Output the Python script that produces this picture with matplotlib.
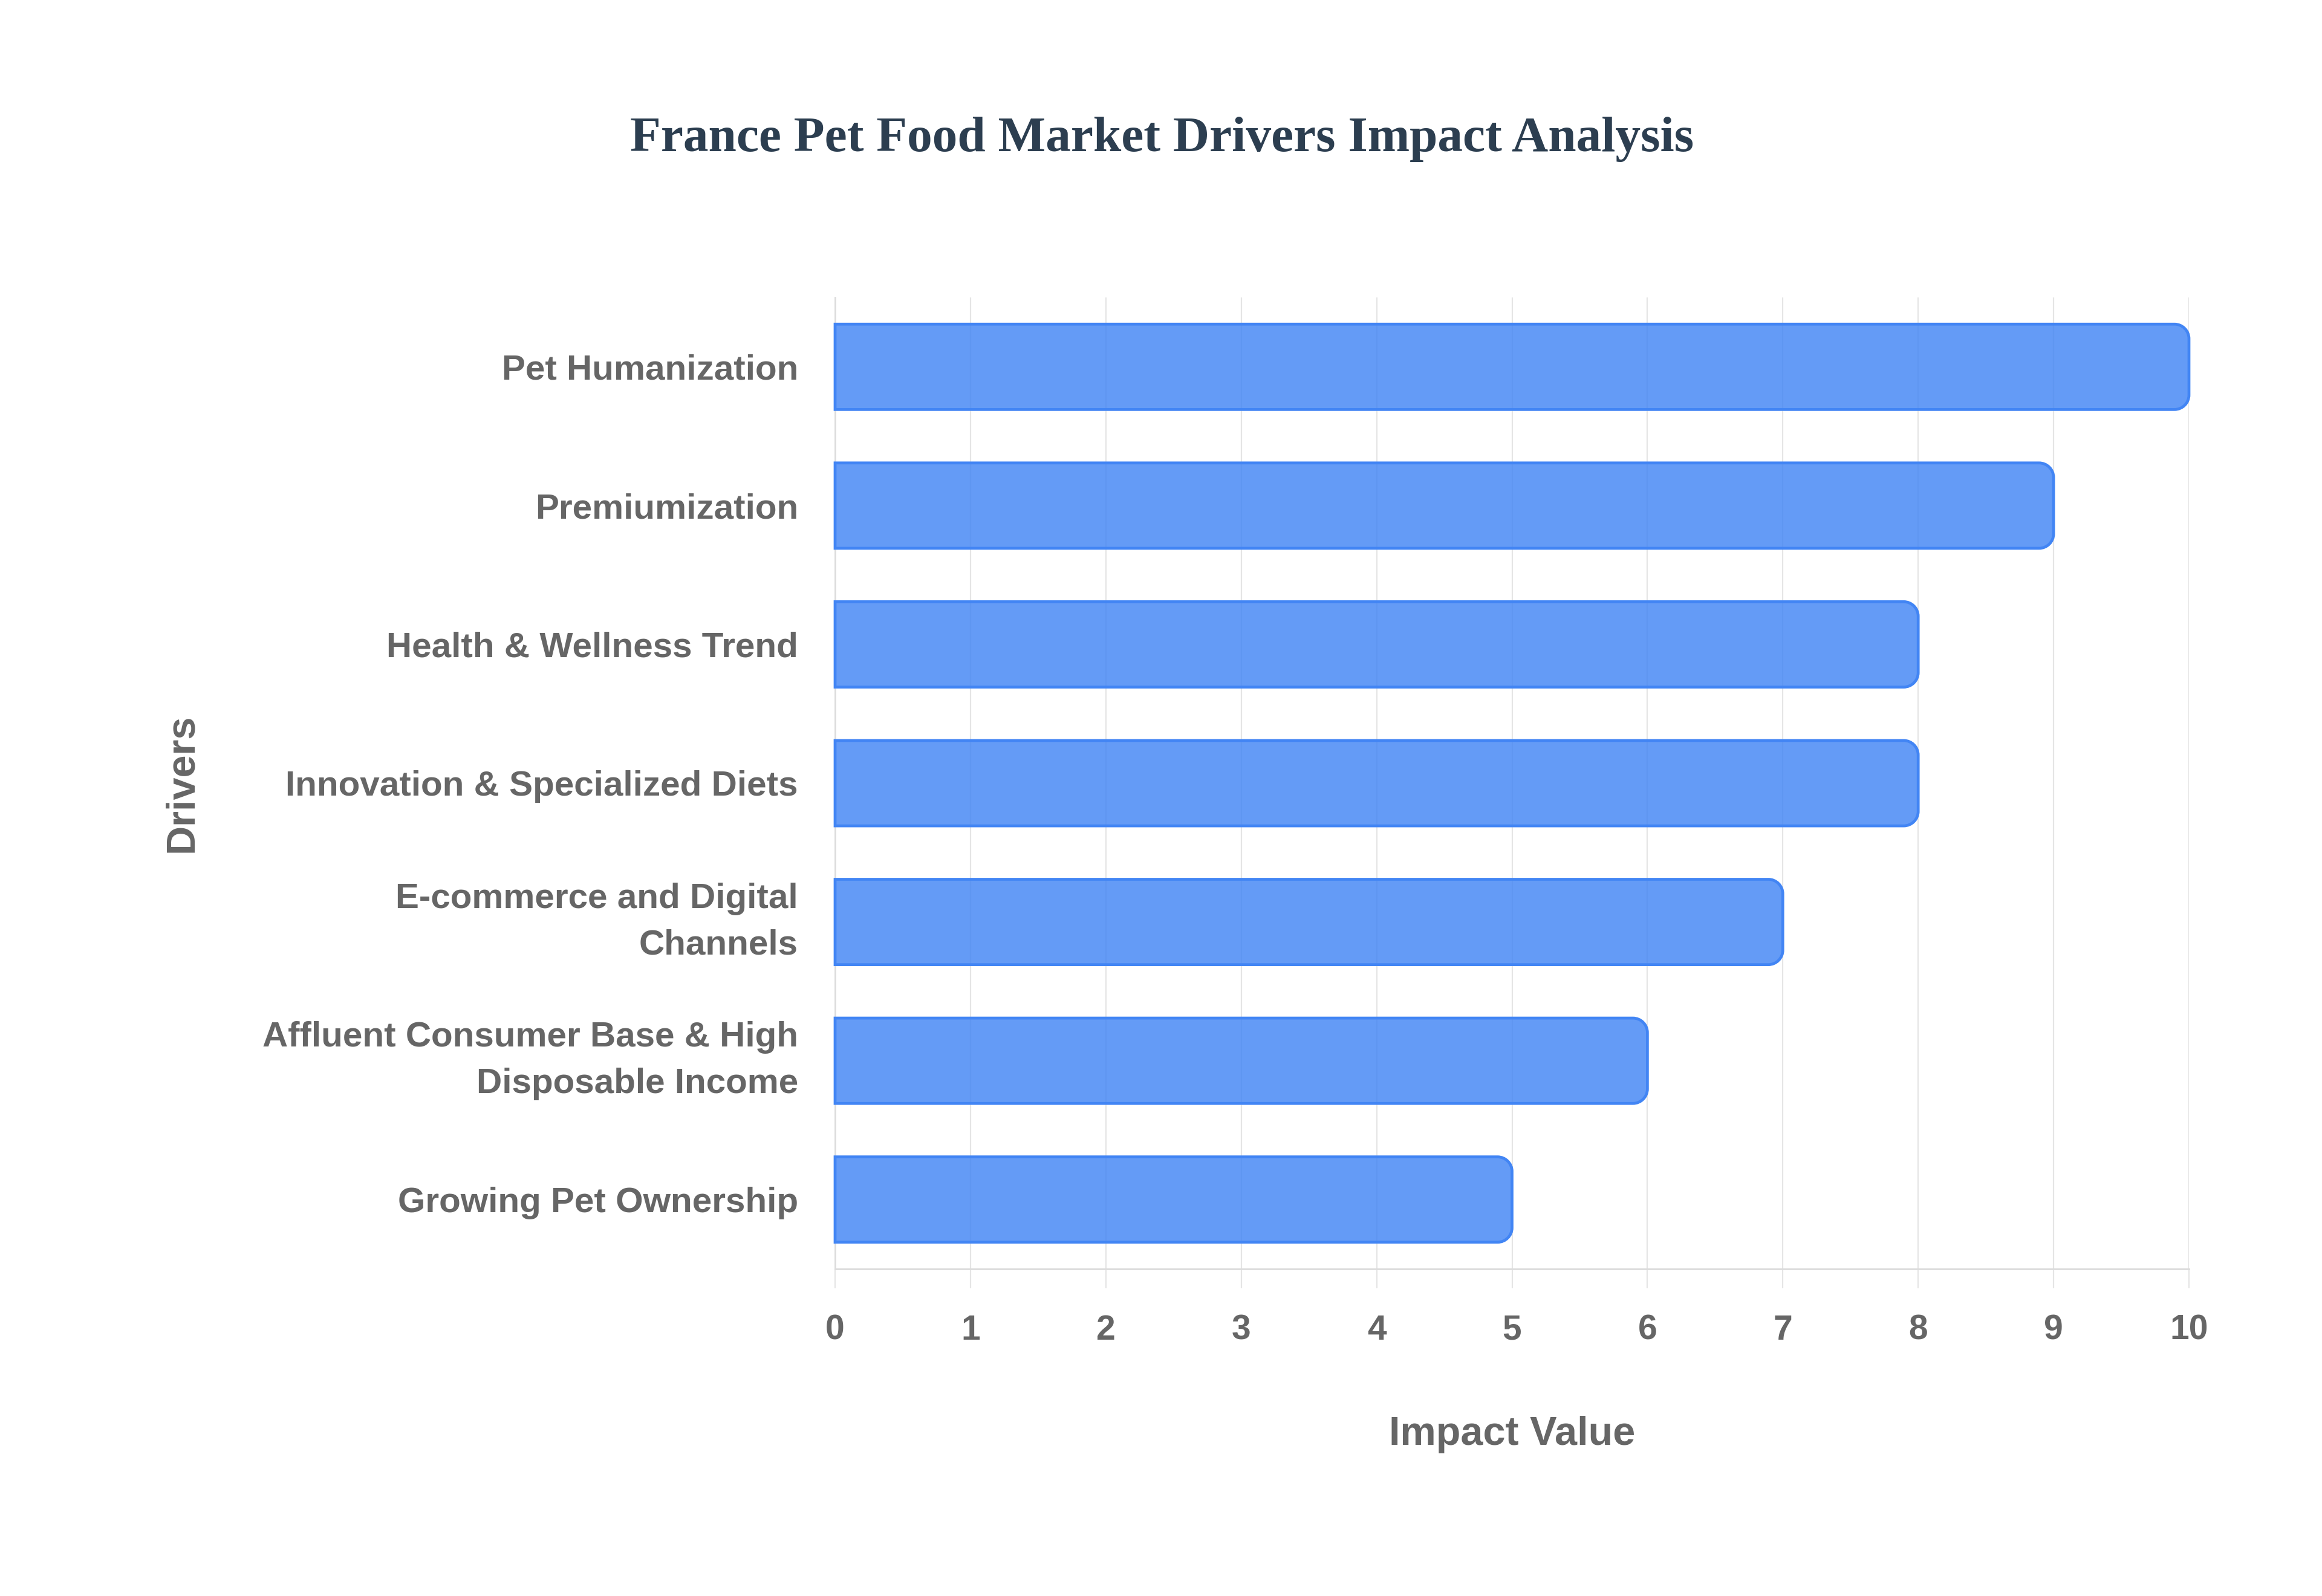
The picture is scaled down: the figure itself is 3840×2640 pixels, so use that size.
import matplotlib
matplotlib.use("Agg")
import matplotlib.pyplot as plt
from matplotlib.path import Path
from matplotlib.patches import PathPatch

drivers = [
    "Pet Humanization",
    "Premiumization",
    "Health & Wellness Trend",
    "Innovation & Specialized Diets",
    "E-commerce and Digital\nChannels",
    "Affluent Consumer Base & High\nDisposable Income",
    "Growing Pet Ownership",
]
impact = [10, 9, 8, 8, 7, 6, 5]
xticks = [0, 1, 2, 3, 4, 5, 6, 7, 8, 9, 10]

title = "France Pet Food Market Drivers Impact Analysis"
xlabel = "Impact Value"
ylabel = "Drivers"

W, H, DPI = 3840, 2640, 100
fig = plt.figure(figsize=(W / DPI, H / DPI), dpi=DPI, facecolor="white")
ax_left, ax_right, ax_top, ax_bottom = 1381, 3620, 492, 2099
ax = fig.add_axes([ax_left / W, 1 - ax_bottom / H, (ax_right - ax_left) / W, (ax_bottom - ax_top) / H])

sans = ["Liberation Sans Narrow", "Liberation Sans", "DejaVu Sans"]
txt_color = "#666666"
grid_color = "#e5e5e5"

ypos = list(range(len(drivers)))
bars = ax.barh(ypos, impact, height=0.615, color="none", edgecolor="none")
ax.set_xlim(0, 10)
ax.set_ylim(len(drivers) - 0.5, -0.5)

# rounded right end for each bar
px_x = (ax_right - ax_left) / 10.0
px_y = (ax_bottom - ax_top) / len(drivers)
r_px = 24
rx, ry = r_px / px_x, r_px / px_y
for b in bars:
    x0, y0 = b.get_x(), b.get_y()
    w, h = b.get_width(), b.get_height()
    x1, y1 = x0 + w, y0 + h
    k = 0.5523
    verts = [
        (x0, y0), (x1 - rx, y0),
        (x1 - rx + k * rx, y0), (x1, y0 + ry - k * ry), (x1, y0 + ry),
        (x1, y1 - ry),
        (x1, y1 - ry + k * ry), (x1 - rx + k * rx, y1), (x1 - rx, y1),
        (x0, y1), (x0, y0),
    ]
    codes = [Path.MOVETO, Path.LINETO,
             Path.CURVE4, Path.CURVE4, Path.CURVE4,
             Path.LINETO,
             Path.CURVE4, Path.CURVE4, Path.CURVE4,
             Path.LINETO, Path.CLOSEPOLY]
    patch = PathPatch(Path(verts, codes), facecolor=(66 / 255, 133 / 255, 244 / 255, 0.82),
                      edgecolor="#4285F4", linewidth=3.4, zorder=3, clip_on=False)
    ax.add_patch(patch)

ax.set_xticks(xticks)
ax.set_xticklabels([str(t) for t in xticks])
ax.set_yticks(ypos)
ax.set_yticklabels(drivers)

ax.grid(axis="x", color=grid_color, linewidth=1.6, zorder=0)
ax.grid(axis="y", visible=False)
ax.set_axisbelow(True)
for s in ["top", "right"]:
    ax.spines[s].set_visible(False)
for s in ["left", "bottom"]:
    ax.spines[s].set_color("#dcdcdc")
    ax.spines[s].set_linewidth(2.0)

ax.tick_params(axis="x", length=23, width=1.6, color=grid_color, pad=31,
               labelsize=41, labelcolor=txt_color)
ax.tick_params(axis="y", length=0, pad=44, labelsize=42, labelcolor=txt_color)
for lab in ax.get_xticklabels() + ax.get_yticklabels():
    lab.set_fontfamily(sans)
    lab.set_fontweight("bold")
for lab in ax.get_yticklabels():
    lab.set_linespacing(1.55)
    lab.set_horizontalalignment("right")
    lab.set_multialignment("right")
    if "\n" in lab.get_text():
        lab.set_verticalalignment("center")

fig.text(0.5003, 1 - 231 / H, title, ha="center", va="center", fontsize=60,
         fontweight="bold", color="#2c3e50", family=["Liberation Serif", "DejaVu Serif"])
fig.text((ax_left + ax_right) / 2 / W, 1 - 2373 / H, xlabel, ha="center", va="center",
         fontsize=48, fontweight="bold", color=txt_color, family=sans)
fig.text(301 / W, 1 - (ax_top + ax_bottom) / 2 / H, ylabel, ha="center", va="center", rotation=90,
         fontsize=48, fontweight="bold", color=txt_color, family=sans)

fig.savefig("out.png", dpi=DPI, facecolor="white")
